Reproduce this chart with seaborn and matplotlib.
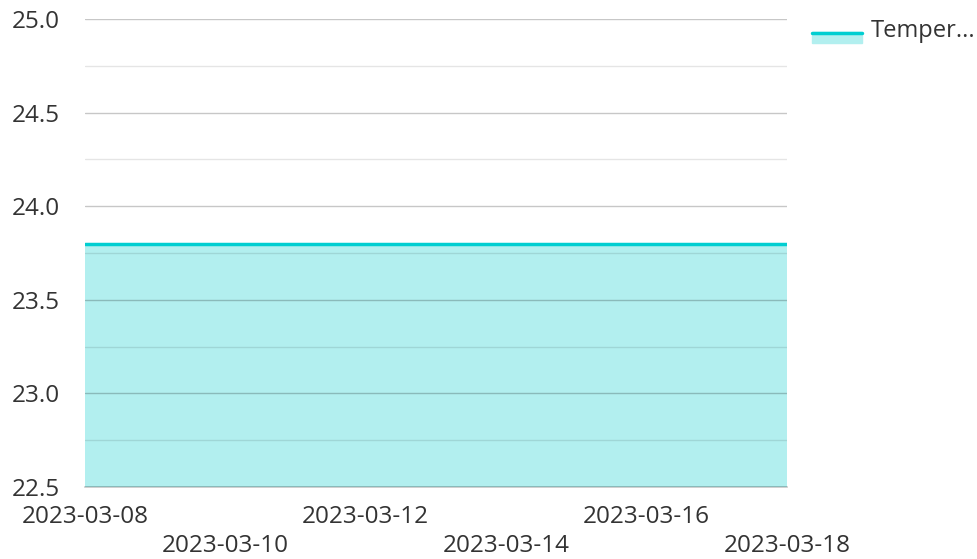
import pandas as pd
import seaborn as sns
import matplotlib.pyplot as plt
from matplotlib.patches import Rectangle
from matplotlib.lines import Line2D

dates = pd.date_range("2023-03-08", "2023-03-18", freq="D")
temps = [23.8] * len(dates)
series_name = "Temper..."
y_ticks = [22.5, 23.0, 23.5, 24.0, 24.5, 25.0]
y_minor = [22.75, 23.25, 23.75, 24.25, 24.75]

df = pd.DataFrame({"date": dates, "temp": temps})

sns.set_theme(style="white")
plt.rcParams['font.family'] = ['Open Sans', 'DejaVu Sans']

line_col = "#00CED1"
fill_col = "#B2EFEF"

fig = plt.figure(figsize=(9.77, 5.59), dpi=100)
ax = fig.add_axes([85/977, 1 - 487/559, (787 - 85)/977, (487 - 19)/559])

ax.fill_between(df["date"], 22.5, df["temp"], color=fill_col, zorder=1, linewidth=0)
sns.lineplot(x="date", y="temp", data=df, color=line_col, linewidth=2.5, ax=ax, zorder=3)

ax.set_ylim(22.5, 25.0)
ax.set_xlim(df["date"].iloc[0], df["date"].iloc[-1])
ax.set_yticks(y_ticks)
ax.set_yticklabels([f"{v:.1f}" for v in y_ticks])
ax.set_yticks(y_minor, minor=True)
ax.set_axisbelow(False)
ax.grid(axis="y", which="major", color="black", alpha=0.22, linewidth=1, zorder=2)
ax.grid(axis="y", which="minor", color="black", alpha=0.1, linewidth=1, zorder=2)
ax.grid(axis="x", visible=False)

xt = pd.date_range("2023-03-08", "2023-03-18", freq="2D")
ax.set_xticks(xt)
ax.set_xticklabels([d.strftime("%Y-%m-%d") if i % 2 == 0 else "\n" + d.strftime("%Y-%m-%d")
                    for i, d in enumerate(xt)])
for lbl in ax.get_xticklabels():
    lbl.set_linespacing(1.3)

for s in ax.spines.values():
    s.set_visible(False)
ax.spines["bottom"].set_visible(True)
ax.spines["bottom"].set_color((0, 0, 0, 0.22))
ax.spines["bottom"].set_linewidth(1.2)
ax.spines["bottom"].set_zorder(4)
ax.tick_params(axis="both", which="both", length=0, labelsize=17.5, colors="#333333")
ax.tick_params(axis="y", pad=18)
ax.tick_params(axis="x", pad=13)
ax.set_xlabel("")
ax.set_ylabel("")

# legend
fig.patches.append(Rectangle((812/977, 1 - 43/559), 50/977, 11/559,
                             transform=fig.transFigure, color=fill_col, figure=fig))
fig.lines.append(Line2D([812/977, 862/977], [1 - 33/559, 1 - 33/559],
                        transform=fig.transFigure, color=line_col, linewidth=2.5, figure=fig))
fig.text(871/977, 1 - 31/559, series_name, fontsize=17, color="#333333", va="center", ha="left")

fig.savefig("out.png", dpi=100)
